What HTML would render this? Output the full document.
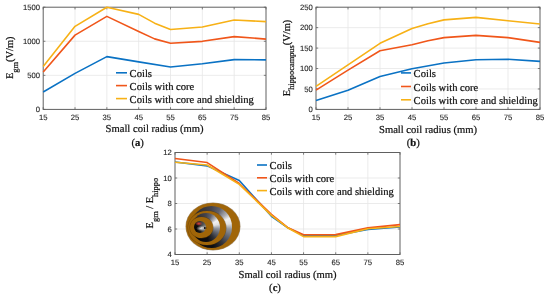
<!DOCTYPE html>
<html><head><meta charset="utf-8"><style>
html,body{margin:0;padding:0;background:#fff;} body{position:relative;width:550px;height:297px;overflow:hidden;}
svg{display:block;will-change:transform;} text{text-rendering:geometricPrecision;}
</style></head><body>
<svg width="550" height="297" viewBox="0 0 550 297" font-family="&quot;Liberation Sans&quot;, sans-serif">
<rect width="550" height="297" fill="#fff"/>
<path d="M75.03 7.2V109.4M106.86 7.2V109.4M138.69 7.2V109.4M170.51 7.2V109.4M202.34 7.2V109.4M234.17 7.2V109.4M43.2 75.33H266M43.2 41.27H266" stroke="#e6e6e6" stroke-width="0.8" fill="none"/>
<path d="M43.2 109.4v-2.2M43.2 7.2v2.2M75.03 109.4v-2.2M75.03 7.2v2.2M106.86 109.4v-2.2M106.86 7.2v2.2M138.69 109.4v-2.2M138.69 7.2v2.2M170.51 109.4v-2.2M170.51 7.2v2.2M202.34 109.4v-2.2M202.34 7.2v2.2M234.17 109.4v-2.2M234.17 7.2v2.2M266 109.4v-2.2M266 7.2v2.2M43.2 109.4h2.2M266 109.4h-2.2M43.2 75.33h2.2M266 75.33h-2.2M43.2 41.27h2.2M266 41.27h-2.2M43.2 7.2h2.2M266 7.2h-2.2" stroke="#606060" stroke-width="0.8" fill="none"/>
<rect x="43.2" y="7.2" width="222.8" height="102.2" stroke="#606060" stroke-width="1" fill="none"/>
<path d="M43.2 92.03 L75.03 73.36 L106.86 56.6 L138.69 61.91 L170.51 67.02 L202.34 63.82 L234.17 59.66 L266 59.87" stroke="#0a72c4" stroke-width="1.6" fill="none" stroke-linejoin="round"/>
<path d="M43.2 72.06 L75.03 35.13 L106.86 16.4 L138.69 31.59 L154.6 38.88 L170.51 43.31 L202.34 41.33 L234.17 36.63 L266 39.09" stroke="#f0561a" stroke-width="1.6" fill="none" stroke-linejoin="round"/>
<path d="M43.2 66.61 L75.03 26.35 L106.86 7.2 L138.69 14.35 L154.6 23.14 L170.51 29.48 L202.34 26.96 L234.17 20.01 L266 21.64" stroke="#f7b116" stroke-width="1.6" fill="none" stroke-linejoin="round"/>
<g font-family="&quot;Liberation Sans&quot;, sans-serif" font-size="7.7" fill="#262626" stroke="#262626" stroke-width="0.12">
<text x="43.2" y="120" text-anchor="middle">15</text>
<text x="75.03" y="120" text-anchor="middle">25</text>
<text x="106.86" y="120" text-anchor="middle">35</text>
<text x="138.69" y="120" text-anchor="middle">45</text>
<text x="170.51" y="120" text-anchor="middle">55</text>
<text x="202.34" y="120" text-anchor="middle">65</text>
<text x="234.17" y="120" text-anchor="middle">75</text>
<text x="266" y="120" text-anchor="middle">85</text>
<text x="40" y="112.1" text-anchor="end">0</text>
<text x="40" y="78.03" text-anchor="end">500</text>
<text x="40" y="43.97" text-anchor="end">1000</text>
<text x="40" y="9.9" text-anchor="end">1500</text>
</g>
<g font-family="&quot;Liberation Serif&quot;, serif" font-size="10.6" fill="#111111" stroke="#111111" stroke-width="0.22">
<path d="M116 72.8H127" stroke="#0a72c4" stroke-width="1.6"/>
<path d="M116 85.6H127" stroke="#f0561a" stroke-width="1.6"/>
<path d="M116 98.6H127" stroke="#f7b116" stroke-width="1.6"/>
<text x="129.6" y="77">Coils</text>
<text x="129.6" y="89.8">Coils with core</text>
<text x="129.6" y="102.8">Coils with core and shielding</text>
</g>
<text x="154.6" y="131.9" text-anchor="middle" font-family="&quot;Liberation Serif&quot;, serif" font-size="10.6" fill="#111111" stroke="#111111" stroke-width="0.22">Small coil radius (mm)</text>
<text x="137.6" y="145.8" text-anchor="middle" font-family="&quot;Liberation Serif&quot;, serif" font-size="10.6" fill="#111111" stroke="#111111" stroke-width="0.22">(<tspan font-weight="bold">a</tspan>)</text>
<text transform="translate(13 79) rotate(-90)" font-family="&quot;Liberation Serif&quot;, serif" font-size="10.4" fill="#111111" stroke="#111111" stroke-width="0.22">E<tspan font-size="8.4" dy="4.8">gm</tspan><tspan dy="-4.8">(V/m)</tspan></text>
<path d="M348 7.2V109.4M380 7.2V109.4M412 7.2V109.4M444 7.2V109.4M476 7.2V109.4M508 7.2V109.4M316 88.96H540M316 68.52H540M316 48.08H540M316 27.64H540" stroke="#e6e6e6" stroke-width="0.8" fill="none"/>
<path d="M316 109.4v-2.2M316 7.2v2.2M348 109.4v-2.2M348 7.2v2.2M380 109.4v-2.2M380 7.2v2.2M412 109.4v-2.2M412 7.2v2.2M444 109.4v-2.2M444 7.2v2.2M476 109.4v-2.2M476 7.2v2.2M508 109.4v-2.2M508 7.2v2.2M540 109.4v-2.2M540 7.2v2.2M316 109.4h2.2M540 109.4h-2.2M316 88.96h2.2M540 88.96h-2.2M316 68.52h2.2M540 68.52h-2.2M316 48.08h2.2M540 48.08h-2.2M316 27.64h2.2M540 27.64h-2.2M316 7.2h2.2M540 7.2h-2.2" stroke="#606060" stroke-width="0.8" fill="none"/>
<rect x="316" y="7.2" width="224" height="102.2" stroke="#606060" stroke-width="1" fill="none"/>
<path d="M316 100.41 L348 90.19 L380 76.49 L412 68.81 L444 63 L476 59.81 L508 59.2 L540 61.41" stroke="#0a72c4" stroke-width="1.6" fill="none" stroke-linejoin="round"/>
<path d="M316 90.19 L348 70.16 L380 50.74 L412 44.81 L428 40.72 L444 37.66 L476 35.41 L508 37.66 L540 42.36" stroke="#f0561a" stroke-width="1.6" fill="none" stroke-linejoin="round"/>
<path d="M316 86.34 L348 64.84 L380 43.3 L412 28.46 L428 23.76 L444 19.87 L476 17.42 L508 20.81 L540 23.96" stroke="#f7b116" stroke-width="1.6" fill="none" stroke-linejoin="round"/>
<g font-family="&quot;Liberation Sans&quot;, sans-serif" font-size="7.7" fill="#262626" stroke="#262626" stroke-width="0.12">
<text x="316" y="120" text-anchor="middle">15</text>
<text x="348" y="120" text-anchor="middle">25</text>
<text x="380" y="120" text-anchor="middle">35</text>
<text x="412" y="120" text-anchor="middle">45</text>
<text x="444" y="120" text-anchor="middle">55</text>
<text x="476" y="120" text-anchor="middle">65</text>
<text x="508" y="120" text-anchor="middle">75</text>
<text x="540" y="120" text-anchor="middle">85</text>
<text x="312.8" y="112.1" text-anchor="end">0</text>
<text x="312.8" y="91.66" text-anchor="end">50</text>
<text x="312.8" y="71.22" text-anchor="end">100</text>
<text x="312.8" y="50.78" text-anchor="end">150</text>
<text x="312.8" y="30.34" text-anchor="end">200</text>
<text x="312.8" y="9.9" text-anchor="end">250</text>
</g>
<g font-family="&quot;Liberation Serif&quot;, serif" font-size="10.6" fill="#111111" stroke="#111111" stroke-width="0.22">
<path d="M401 72.9H411" stroke="#0a72c4" stroke-width="1.6"/>
<path d="M401 86.5H411" stroke="#f0561a" stroke-width="1.6"/>
<path d="M401 99.8H411" stroke="#f7b116" stroke-width="1.6"/>
<text x="413.6" y="77.1">Coils</text>
<text x="413.6" y="90.7">Coils with core</text>
<text x="413.6" y="104">Coils with core and shielding</text>
</g>
<text x="428" y="132.6" text-anchor="middle" font-family="&quot;Liberation Serif&quot;, serif" font-size="10.6" fill="#111111" stroke="#111111" stroke-width="0.22">Small coil radius (mm)</text>
<text x="413.2" y="146.3" text-anchor="middle" font-family="&quot;Liberation Serif&quot;, serif" font-size="10.6" fill="#111111" stroke="#111111" stroke-width="0.22">(<tspan font-weight="bold">b</tspan>)</text>
<text transform="translate(289.5 96.2) rotate(-90)" font-family="&quot;Liberation Serif&quot;, serif" font-size="10.4" fill="#111111" stroke="#111111" stroke-width="0.22">E<tspan font-size="8.4" dy="4.8">hippocampus</tspan><tspan dy="-4.8">(V/m)</tspan></text>
<path d="M207.14 152.5V254.5M239.29 152.5V254.5M271.43 152.5V254.5M303.57 152.5V254.5M335.71 152.5V254.5M367.86 152.5V254.5M175 229H400M175 203.5H400M175 178H400" stroke="#e6e6e6" stroke-width="0.8" fill="none"/>
<path d="M175 254.5v-2.2M175 152.5v2.2M207.14 254.5v-2.2M207.14 152.5v2.2M239.29 254.5v-2.2M239.29 152.5v2.2M271.43 254.5v-2.2M271.43 152.5v2.2M303.57 254.5v-2.2M303.57 152.5v2.2M335.71 254.5v-2.2M335.71 152.5v2.2M367.86 254.5v-2.2M367.86 152.5v2.2M400 254.5v-2.2M400 152.5v2.2M175 254.5h2.2M400 254.5h-2.2M175 229h2.2M400 229h-2.2M175 203.5h2.2M400 203.5h-2.2M175 178h2.2M400 178h-2.2M175 152.5h2.2M400 152.5h-2.2" stroke="#606060" stroke-width="0.8" fill="none"/>
<rect x="175" y="152.5" width="225" height="102" stroke="#606060" stroke-width="1" fill="none"/>
<path d="M175 162.06 L207.14 165.89 L239.29 180.55 L271.43 216.25 L287.5 227.6 L303.57 235.63 L335.71 235.5 L367.86 229.38 L400 226.96" stroke="#0a72c4" stroke-width="1.6" fill="none" stroke-linejoin="round"/>
<path d="M175 158.49 L207.14 162.57 L239.29 183.48 L271.43 214.34 L287.5 227.47 L303.57 234.74 L335.71 234.61 L367.86 227.85 L400 224.66" stroke="#f0561a" stroke-width="1.6" fill="none" stroke-linejoin="round"/>
<path d="M175 162.19 L207.14 165 L239.29 184.38 L271.43 215.36 L287.5 227.72 L303.57 236.65 L335.71 236.65 L367.86 228.75 L400 226.45" stroke="#f7b116" stroke-width="1.6" fill="none" stroke-linejoin="round"/>
<g font-family="&quot;Liberation Sans&quot;, sans-serif" font-size="7.7" fill="#262626" stroke="#262626" stroke-width="0.12">
<text x="175" y="265.1" text-anchor="middle">15</text>
<text x="207.14" y="265.1" text-anchor="middle">25</text>
<text x="239.29" y="265.1" text-anchor="middle">35</text>
<text x="271.43" y="265.1" text-anchor="middle">45</text>
<text x="303.57" y="265.1" text-anchor="middle">55</text>
<text x="335.71" y="265.1" text-anchor="middle">65</text>
<text x="367.86" y="265.1" text-anchor="middle">75</text>
<text x="400" y="265.1" text-anchor="middle">85</text>
<text x="171.8" y="257.2" text-anchor="end">4</text>
<text x="171.8" y="231.7" text-anchor="end">6</text>
<text x="171.8" y="206.2" text-anchor="end">8</text>
<text x="171.8" y="180.7" text-anchor="end">10</text>
<text x="171.8" y="155.2" text-anchor="end">12</text>
</g>
<g font-family="&quot;Liberation Serif&quot;, serif" font-size="10.6" fill="#111111" stroke="#111111" stroke-width="0.22">
<path d="M257 165H267" stroke="#0a72c4" stroke-width="1.6"/>
<path d="M257 177.8H267" stroke="#f0561a" stroke-width="1.6"/>
<path d="M257 190.6H267" stroke="#f7b116" stroke-width="1.6"/>
<text x="269.6" y="169.2">Coils</text>
<text x="269.6" y="182">Coils with core</text>
<text x="269.6" y="194.8">Coils with core and shielding</text>
</g>
<text x="287.5" y="277.7" text-anchor="middle" font-family="&quot;Liberation Serif&quot;, serif" font-size="10.6" fill="#111111" stroke="#111111" stroke-width="0.22">Small coil radius (mm)</text>
<text x="275" y="291.3" text-anchor="middle" font-family="&quot;Liberation Serif&quot;, serif" font-size="10.6" fill="#111111" stroke="#111111" stroke-width="0.22">(<tspan font-weight="bold">c</tspan>)</text>
<text transform="translate(153 228.4) rotate(-90)" font-family="&quot;Liberation Serif&quot;, serif" font-size="10.4" fill="#111111" stroke="#111111" stroke-width="0.22">E<tspan font-size="8.4" dy="4.8">gm</tspan><tspan dy="-4.8"> / E</tspan><tspan font-size="8.4" dy="4.8">hippo</tspan></text>

</svg>
<div style="position:absolute;left:0;top:0;width:550px;height:297px;"><div style="position:absolute;left:185.50px;top:203.30px;width:54.00px;height:47.10px;border-radius:50%;background:#a06508;box-shadow:0 0 0 0.5px rgba(90,55,0,0.55);"></div><div style="position:absolute;left:190.60px;top:206.40px;width:41.40px;height:41.60px;border-radius:50%;background:conic-gradient(from 0deg at 50% 50%, #44444c 0deg, #60606a 25deg, #b0b0b4 50deg, #f2f2f2 64deg, #e2e2e2 80deg, #9498a0 96deg, #646872 118deg, #34363e 145deg, #0e0e12 175deg, #08080a 230deg, #18181c 275deg, #2e2e34 320deg, #44444c 360deg);"></div><div style="position:absolute;left:188.00px;top:210.50px;width:38.00px;height:34.50px;border-radius:50%;background:#a06508;box-shadow:0 0 0 0.5px rgba(90,55,0,0.55);"></div><div style="position:absolute;left:192.00px;top:213.40px;width:27.70px;height:28.80px;border-radius:50%;background:conic-gradient(from 0deg at 50% 50%, #44444c 0deg, #60606a 22deg, #b4b4b8 45deg, #f2f2f2 58deg, #e2e2e2 76deg, #9498a0 94deg, #60646e 116deg, #303238 142deg, #0c0c10 172deg, #08080a 230deg, #18181c 275deg, #2e2e34 320deg, #44444c 360deg);"></div><div style="position:absolute;left:190.00px;top:217.00px;width:23.00px;height:21.40px;border-radius:50%;background:#a06508;box-shadow:0 0 0 0.5px rgba(90,55,0,0.55);"></div><div style="position:absolute;left:193.90px;top:221.10px;width:12.00px;height:12.20px;border-radius:50%;background:radial-gradient(ellipse 40% 22% at 58% 62%, rgba(235,235,235,0.95), rgba(235,235,235,0) 100%), radial-gradient(ellipse 30% 18% at 40% 22%, #e03a3a, rgba(224,58,58,0) 100%), conic-gradient(from 0deg at 55% 55%, #3a3a3a 0deg, #555 40deg, #9a9a9a 90deg, #6a6a6a 130deg, #1e1e1e 180deg, #050505 250deg, #101010 300deg, #3a3a3a 360deg);"></div><div style="position:absolute;left:204px;top:226.9px;width:0;height:0;border-top:0.9px solid transparent;border-bottom:0.9px solid transparent;border-left:3.6px solid #000"></div></div>
</body></html>
